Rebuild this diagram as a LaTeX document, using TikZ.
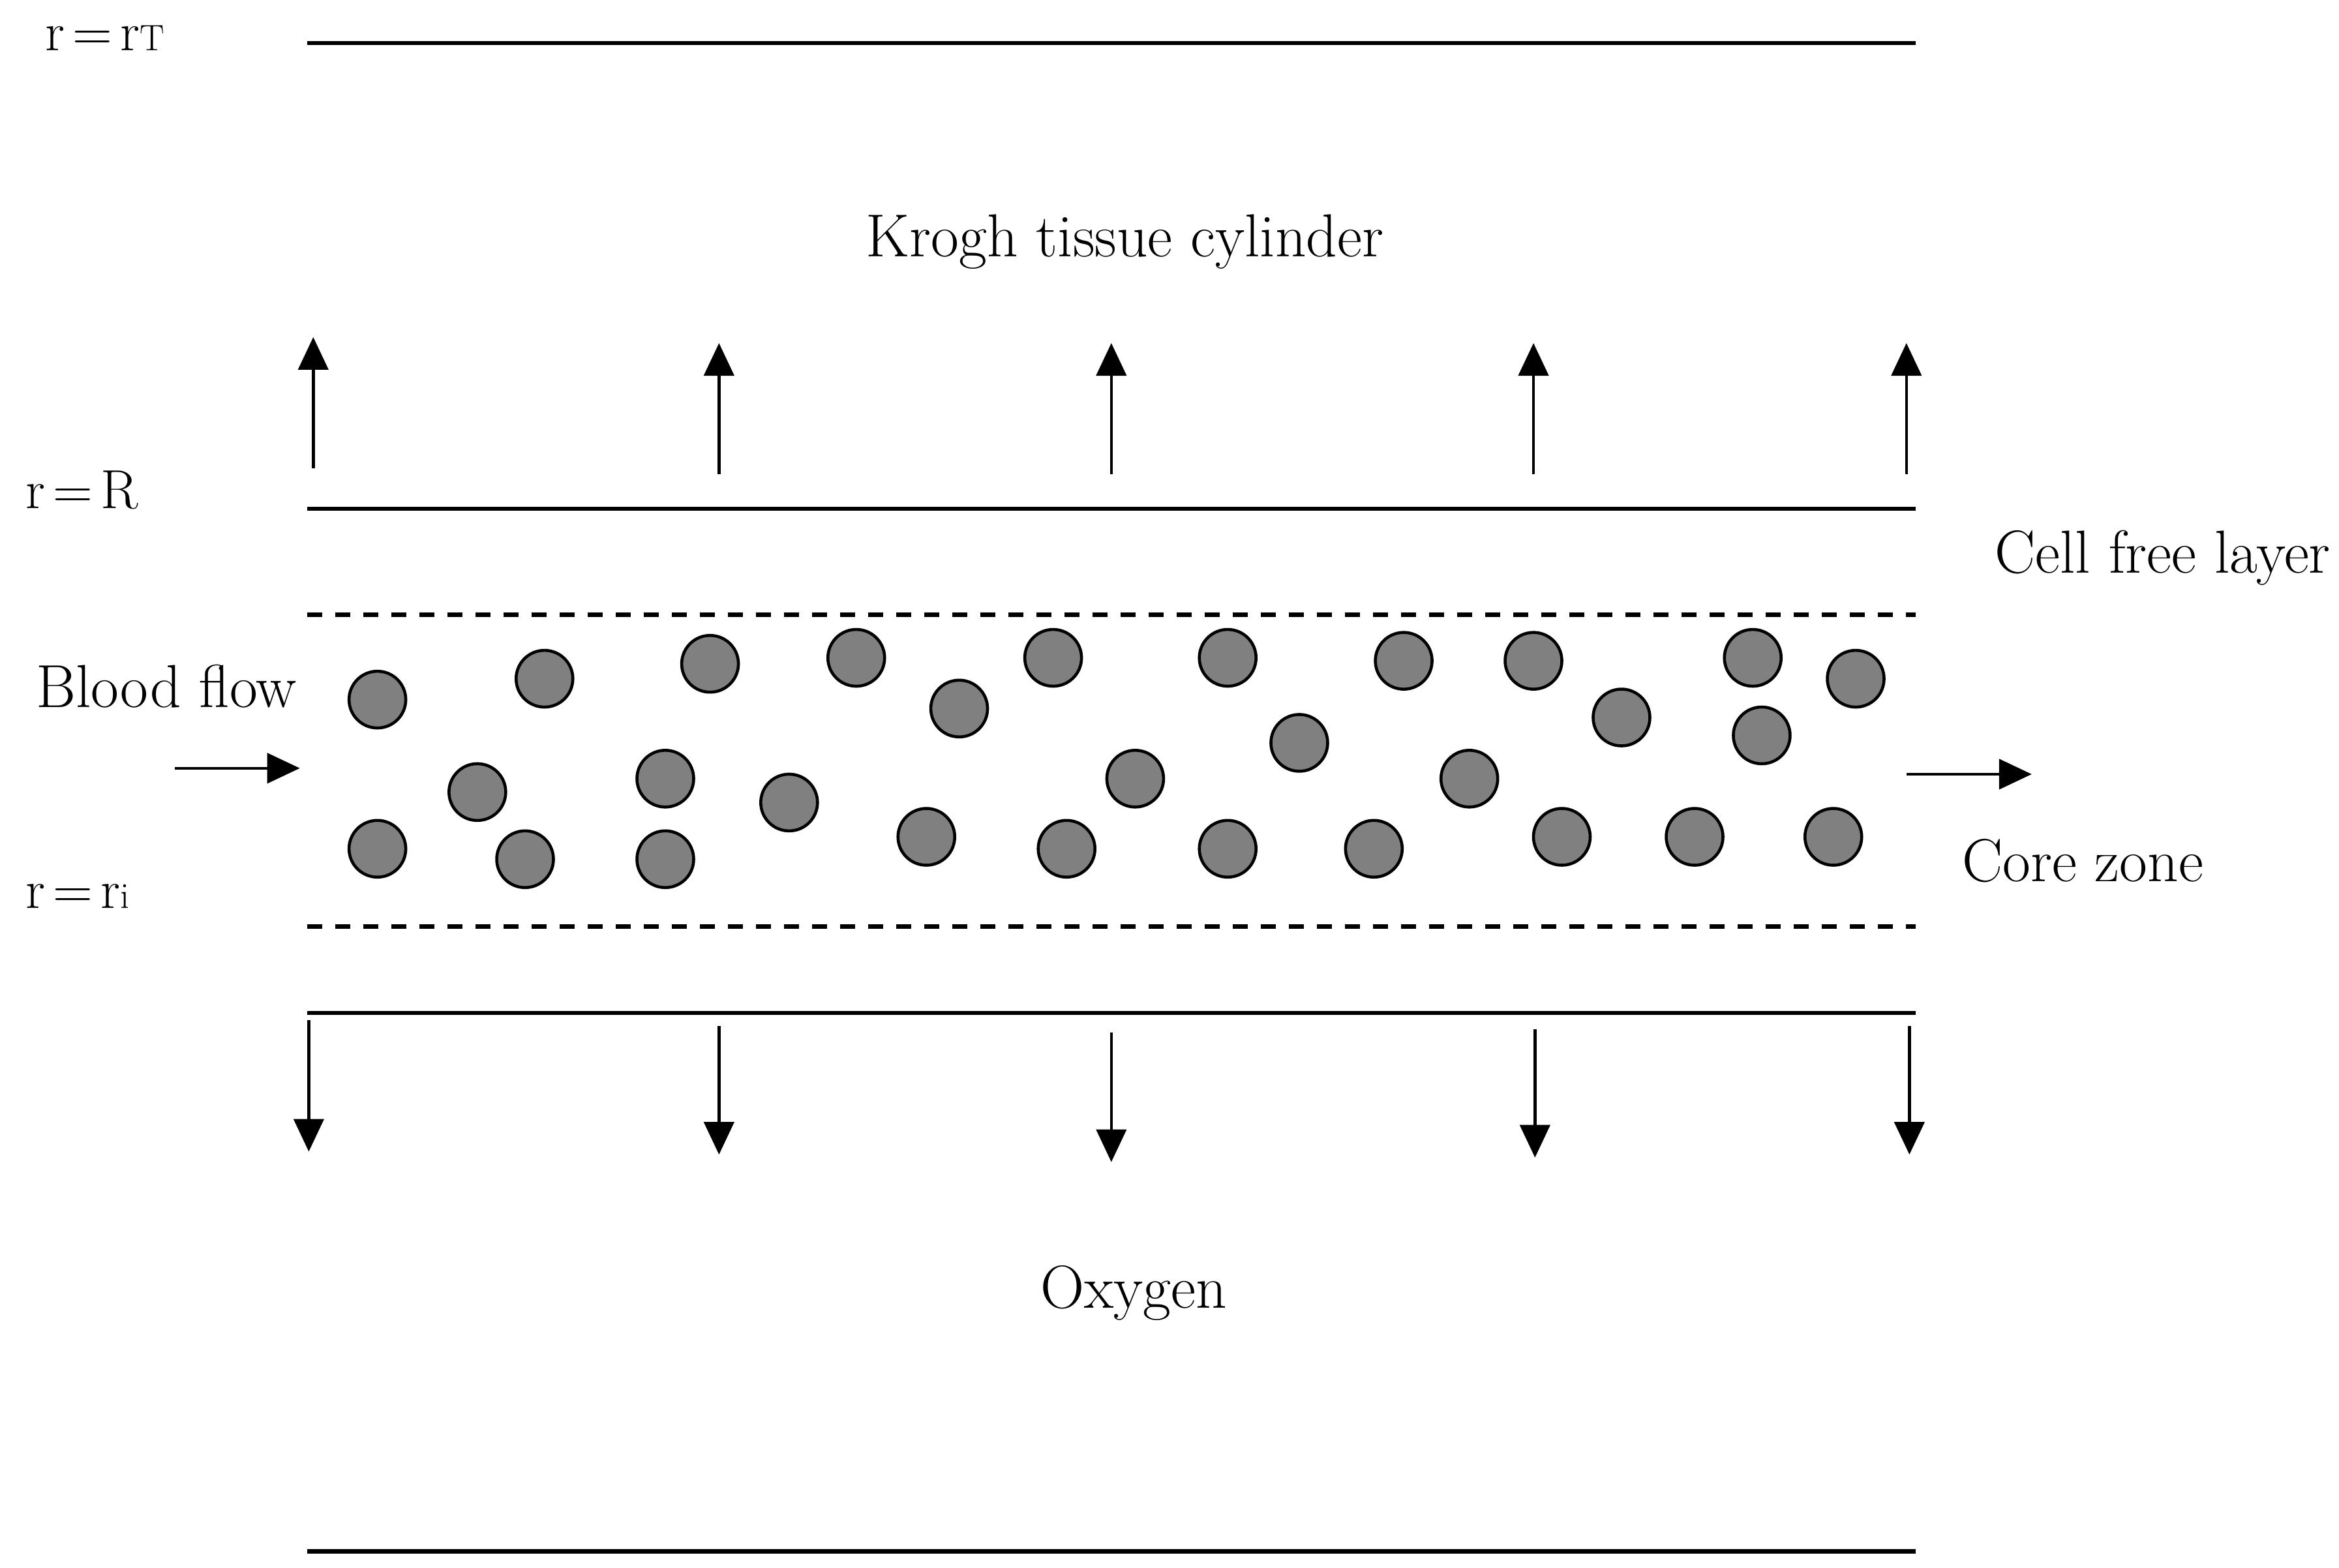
\documentclass[tikz,border=0pt]{standalone}
\usetikzlibrary{arrows.meta}
\definecolor{rbcgray}{RGB}{128,128,128}
\begin{document}
\begin{tikzpicture}[x=0.02287cm,y=-0.02287cm,
  wall/.style={line width=1.8pt},
  layer/.style={line width=1.9pt, dash pattern=on 0.23cm off 0.2cm},
  flux/.style={line width=1.3pt, -{Triangle[width=0.46cm,length=0.5cm]}},
  rbc/.style={circle, draw, line width=1.3pt, fill=rbcgray, minimum size=0.87cm, inner sep=0pt},
  lbl/.style={font=\fontsize{26.5}{30}\selectfont, inner sep=0pt},
  rlbl/.style={font=\fontsize{24}{28}\selectfont, inner sep=0pt, anchor=base west},
  lblw/.style={lbl, anchor=base west},
  lblc/.style={lbl, anchor=base}]
\useasboundingbox (0,0) rectangle (1568,1051);
% walls and layers
\coordinate (tL) at (206,29);   \coordinate (tR) at (1284,29);
\coordinate (RL) at (206,341);  \coordinate (RR) at (1284,341);
\coordinate (uL) at (206,412);  \coordinate (uR) at (1284,412);
\coordinate (lL) at (206,621);  \coordinate (lR) at (1284,621);
\coordinate (bL) at (206,679);  \coordinate (bR) at (1284,679);
\coordinate (eL) at (206,1040); \coordinate (eR) at (1284,1040);
\draw[wall] (tL) -- (tR);
\draw[wall] (RL) -- (RR);
\draw[layer] (uL) -- (uR);
\draw[layer] (lL) -- (lR);
\draw[wall] (bL) -- (bR);
\draw[wall] (eL) -- (eR);
% labels
\node[rlbl] (lrT) at (30,34) {r\kern3.5pt=\kern3.5pt r{\fontsize{16}{18}\selectfont T}};
\node[lblc] (krogh) at (754,172) {Krogh tissue cylinder};
\node[rlbl] (lR) at (17,341) {r\kern3.5pt=\kern3.5pt R};
\node[lblw] (cfl) at (1337,384) {Cell free layer};
\node[lblw] (bf) at (24,474) {Blood flow};
\node[lblw] (cz) at (1315,591) {Core zone};
\node[rlbl] (lri) at (17,609) {r\kern3.5pt=\kern3.5pt r{\fontsize{16}{18}\selectfont i}};
\node[lblc] (oxy) at (760,877) {Oxygen};
% upward oxygen flux
\foreach \i/\x/\a/\b in {1/210/314/226, 2/482/318/230, 3/745/318/230, 4/1028/318/230, 5/1278/318/230}{
  \coordinate (us\i) at (\x,\a); \coordinate (ue\i) at (\x,\b);
  \draw[flux] (us\i) -- (ue\i);
}
% downward oxygen flux
\foreach \i/\x/\a/\b in {1/207/684/772, 2/482/688/774, 3/745/692/779, 4/1029/690/776, 5/1280/688/774}{
  \coordinate (ds\i) at (\x,\a); \coordinate (de\i) at (\x,\b);
  \draw[flux] (ds\i) -- (de\i);
}
% blood flow arrows
\coordinate (inS) at (117,515);  \coordinate (inE) at (201,515);
\coordinate (outS) at (1278,519); \coordinate (outE) at (1362,519);
\draw[flux] (inS) -- (inE);
\draw[flux] (outS) -- (outE);
% red blood cells
\foreach \i/\x/\y in {1/253/469, 2/365/455, 3/476/445, 4/574/441, 5/643/475, 6/706/441, 7/823/441, 8/941/443, 9/1028/443, 10/1087/481, 11/1175/441, 12/1244/455,
  13/320/531, 14/446/522, 15/529/538, 16/761/522, 17/871/498, 18/985/522, 19/1181/493,
  20/253/569, 21/352/576, 22/446/576, 23/621/561, 24/715/569, 25/823/569, 26/921/569, 27/1047/561, 28/1136/561, 29/1229/561}{
  \node[rbc] (c\i) at (\x,\y) {};
}
\end{tikzpicture}
\end{document}
